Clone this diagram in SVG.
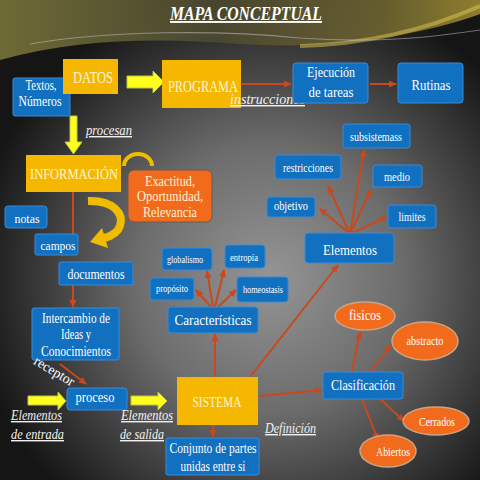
<svg xmlns="http://www.w3.org/2000/svg" width="480" height="480" viewBox="0 0 480 480">
<defs>
<radialGradient id="bg" cx="0.56" cy="0.58" r="0.62">
<stop offset="0" stop-color="#959595"/>
<stop offset="0.45" stop-color="#6c6c6c"/>
<stop offset="1" stop-color="#151515"/>
</radialGradient>
<linearGradient id="top" x1="0" y1="0" x2="1" y2="0">
<stop offset="0" stop-color="#78743a"/>
<stop offset="0.45" stop-color="#4c4930"/>
<stop offset="0.8" stop-color="#6e6430"/>
<stop offset="1" stop-color="#9a8a30"/>
</linearGradient>
<marker id="ah" markerWidth="8" markerHeight="7" refX="7" refY="3.5" orient="auto" markerUnits="userSpaceOnUse">
<path d="M0,0 L8,3.5 L0,7 Z" fill="#c8481f"/>
</marker>
<style>
.b{fill:#1170c0;stroke:#3d8ad2;stroke-width:1}
.y{fill:#f5b700}
.o{fill:#f26b1d;stroke:#c9a486;stroke-width:1.5}
.ya{fill:#ffff1e;stroke:#bcc44a;stroke-width:1}
.t{font-family:"Liberation Serif",serif;fill:#ffffff;text-anchor:middle}
.c{fill:#fff5d6}
.l{font-family:"Liberation Serif",serif;fill:#f2f2f2;font-style:italic;text-decoration:underline}
.r{fill:none;stroke:#c8481f;stroke-width:2}
.ra{fill:none;stroke:#c8481f;stroke-width:2;marker-end:url(#ah)}
</style>
</defs>
<rect width="480" height="480" fill="url(#bg)"/>
<path d="M0,0 H480 V14 C420,36 330,50 240,44 C160,38 80,38 0,60 Z" fill="url(#top)" opacity="0.9"/>
<path d="M300,46 C370,44 430,28 480,6" fill="none" stroke="#e0c850" stroke-width="4" opacity="0.5"/>
<path d="M30,44 C110,30 220,30 300,38 C380,44 440,36 480,30" fill="none" stroke="#c8c8c8" stroke-width="1.2" opacity="0.5"/>
<text class="t" x="246" y="20" font-size="19" font-weight="bold" font-style="italic" text-decoration="underline" textLength="152" lengthAdjust="spacingAndGlyphs">MAPA CONCEPTUAL</text>

<g id="connectors">
<path class="ra" d="M242,84 L291,84"/>
<path class="ra" d="M370,84 L396,84"/>
<path class="r" d="M73,192 V234"/>
<path class="ra" d="M73,285 V307"/>
<path class="ra" d="M60,364 L86,384"/>
<path class="ra" d="M215,377 V334"/>
<path class="ra" d="M213,425 V437"/>
<path class="ra" d="M259,396 L322,390"/>
<path class="ra" d="M250,377 L338,265"/>
<path class="ra" d="M350,234 L364,150"/>
<path class="ra" d="M350,234 L328,186"/>
<path class="ra" d="M350,234 L320,209"/>
<path class="ra" d="M350,234 L371,190"/>
<path class="ra" d="M350,234 L386,217"/>
<path class="ra" d="M211,307 L196,290"/>
<path class="ra" d="M213,307 L207,271"/>
<path class="ra" d="M215,307 L224,270"/>
<path class="ra" d="M218,307 L236,290"/>
<path class="ra" d="M352,372 L360,332"/>
<path class="ra" d="M370,372 L391,345"/>
<path class="ra" d="M380,399 L404,421"/>
<path class="ra" d="M362,399 L378,440"/>
<polygon class="ya" points="127,76 153,76 153,71 164,82 153,93 153,88 127,88"/>
<polygon class="ya" points="70,116 77,116 77,142 82,142 73.5,154 65,142 70,142"/>
<polygon class="ya" points="28,396 58,396 58,392 66,401 58,410 58,405 28,405"/>
<polygon class="ya" points="131,396 158,396 158,392 167,401 158,410 158,405 131,405"/>
<path d="M124,166 A14,12 0 0 1 152,166" fill="none" stroke="#f0bc00" stroke-width="4"/>
<path d="M88,201 C114,200 124,214 120,226 C118,232 112,236 104,238" fill="none" stroke="#f0bc00" stroke-width="8"/>
<polygon points="90,242 102,228 108,248" fill="#f0bc00"/>
</g>

<g id="textos"><rect class="b" x="13" y="78" width="57" height="38" rx="2"/>
<text class="t" x="41" y="90" font-size="14" textLength="31" lengthAdjust="spacingAndGlyphs">Textos,</text>
<text class="t" x="40" y="106" font-size="14" textLength="43" lengthAdjust="spacingAndGlyphs">Números</text></g>
<g id="datos"><rect class="y" x="63" y="59" width="55" height="35"/>
<text class="t c" x="93" y="83" font-size="16" textLength="40" lengthAdjust="spacingAndGlyphs">DATOS</text></g>
<g id="programa"><rect class="y" x="162" y="60" width="79" height="48"/>
<text class="t c" x="203" y="92" font-size="16" textLength="70" lengthAdjust="spacingAndGlyphs">PROGRAMA</text></g>
<text class="l" x="230" y="104" font-size="14" textLength="75" lengthAdjust="spacingAndGlyphs">instrucciones</text>
<g id="ejecucion"><rect class="b" x="293" y="63" width="75" height="40" rx="3"/>
<text class="t" x="331" y="77" font-size="15" textLength="48" lengthAdjust="spacingAndGlyphs">Ejecución</text>
<text class="t" x="331" y="97" font-size="15" textLength="45" lengthAdjust="spacingAndGlyphs">de tareas</text></g>
<g id="rutinas"><rect class="b" x="398" y="63" width="65" height="40" rx="3"/>
<text class="t" x="431" y="90" font-size="15" textLength="39" lengthAdjust="spacingAndGlyphs">Rutinas</text></g>
<text class="l" x="86" y="135" font-size="14" textLength="46" lengthAdjust="spacingAndGlyphs">procesan</text>
<g id="informacion"><rect class="y" x="26" y="155" width="95" height="37"/>
<text class="t c" x="74" y="179" font-size="15" textLength="88" lengthAdjust="spacingAndGlyphs">INFORMACIÓN</text></g>
<g id="exactitud"><rect x="128" y="170" width="84" height="52" rx="6" fill="#f26b1d" stroke="#6a5a50" stroke-width="1"/>
<text class="t c" x="170" y="186" font-size="14" textLength="50" lengthAdjust="spacingAndGlyphs">Exactitud,</text>
<text class="t c" x="170" y="201" font-size="14" textLength="66" lengthAdjust="spacingAndGlyphs">Oportunidad,</text>
<text class="t c" x="170" y="217" font-size="14" textLength="54" lengthAdjust="spacingAndGlyphs">Relevancia</text></g>
<g id="notas"><rect class="b" x="5" y="206" width="42" height="22" rx="3"/>
<text class="t" x="27" y="223" font-size="13" textLength="25" lengthAdjust="spacingAndGlyphs">notas</text></g>
<g id="campos"><rect class="b" x="35" y="234" width="43" height="21" rx="2"/>
<text class="t" x="58" y="250" font-size="13" textLength="35" lengthAdjust="spacingAndGlyphs">campos</text></g>
<g id="documentos"><rect class="b" x="59" y="262" width="74" height="23" rx="2"/>
<text class="t" x="96" y="279" font-size="14" textLength="57" lengthAdjust="spacingAndGlyphs">documentos</text></g>
<g id="intercambio"><rect class="b" x="32" y="308" width="87" height="52" rx="2"/>
<text class="t" x="76" y="323" font-size="14" textLength="68" lengthAdjust="spacingAndGlyphs">Intercambio de</text>
<text class="t" x="76" y="339" font-size="14" textLength="30" lengthAdjust="spacingAndGlyphs">Ideas y</text>
<text class="t" x="76" y="356" font-size="14" textLength="70" lengthAdjust="spacingAndGlyphs">Conocimientos</text></g>
<text class="t" x="0" y="0" font-size="14" textLength="45" lengthAdjust="spacingAndGlyphs" transform="translate(52,375) rotate(31)">receptor</text>
<g id="proceso"><rect class="b" x="67" y="388" width="60" height="22" rx="3"/>
<text class="t" x="95" y="402" font-size="14" textLength="39" lengthAdjust="spacingAndGlyphs">proceso</text></g>
<text class="l" x="11" y="420" font-size="14" textLength="51" lengthAdjust="spacingAndGlyphs">Elementos</text>
<text class="l" x="11" y="439" font-size="14" textLength="53" lengthAdjust="spacingAndGlyphs">de entrada</text>
<text class="l" x="121" y="420" font-size="14" textLength="52" lengthAdjust="spacingAndGlyphs">Elementos</text>
<text class="l" x="120" y="439" font-size="14" textLength="44" lengthAdjust="spacingAndGlyphs">de salida</text>
<g id="sistema"><rect class="y" x="177" y="377" width="81" height="48"/>
<text class="t c" x="217" y="407" font-size="15" textLength="49" lengthAdjust="spacingAndGlyphs">SISTEMA</text></g>
<g id="conjunto"><rect class="b" x="166" y="438" width="93" height="37" rx="2"/>
<text class="t" x="213" y="453" font-size="14" textLength="87" lengthAdjust="spacingAndGlyphs">Conjunto de partes</text>
<text class="t" x="213" y="471" font-size="14" textLength="65" lengthAdjust="spacingAndGlyphs">unidas entre si</text></g>
<text class="l" x="265" y="433" font-size="14" textLength="51" lengthAdjust="spacingAndGlyphs">Definición</text>
<g id="clasificacion"><rect class="b" x="323" y="372" width="80" height="27" rx="3"/>
<text class="t" x="363" y="390" font-size="15" textLength="64" lengthAdjust="spacingAndGlyphs">Clasificación</text></g>
<g id="fisicos"><ellipse class="o" cx="365" cy="316" rx="30" ry="14"/>
<text class="t" x="365" y="320" font-size="14" textLength="32" lengthAdjust="spacingAndGlyphs">fisicos</text></g>
<g id="abstracto"><ellipse class="o" cx="425" cy="341" rx="33" ry="19"/>
<text class="t" x="425" y="345" font-size="12" textLength="37" lengthAdjust="spacingAndGlyphs">abstracto</text></g>
<g id="cerrados"><ellipse class="o" cx="436" cy="421" rx="33" ry="14"/>
<text class="t" x="437" y="426" font-size="12" textLength="36" lengthAdjust="spacingAndGlyphs">Cerrados</text></g>
<g id="abiertos"><ellipse class="o" cx="388" cy="451" rx="28" ry="16"/>
<text class="t" x="393" y="456" font-size="12" textLength="34" lengthAdjust="spacingAndGlyphs">Abiertos</text></g>
<g id="elementos"><rect class="b" x="305" y="233" width="89" height="30" rx="3"/>
<text class="t" x="350" y="255" font-size="15" textLength="54" lengthAdjust="spacingAndGlyphs">Elementos</text></g>
<g id="subsistemass"><rect class="b" x="343" y="124" width="67" height="24" rx="3"/>
<text class="t" x="376" y="141" font-size="12" textLength="52" lengthAdjust="spacingAndGlyphs">subsistemass</text></g>
<g id="restricciones"><rect class="b" x="275" y="155" width="66" height="24" rx="3"/>
<text class="t" x="308" y="172" font-size="12" textLength="50" lengthAdjust="spacingAndGlyphs">restricciones</text></g>
<g id="medio"><rect class="b" x="373" y="165" width="49" height="22" rx="3"/>
<text class="t" x="397" y="181" font-size="12" textLength="26" lengthAdjust="spacingAndGlyphs">medio</text></g>
<g id="objetivo"><rect class="b" x="267" y="197" width="48" height="20" rx="3"/>
<text class="t" x="291" y="210" font-size="12" textLength="34" lengthAdjust="spacingAndGlyphs">objetivo</text></g>
<g id="limites"><rect class="b" x="388" y="205" width="48" height="23" rx="3"/>
<text class="t" x="412" y="221" font-size="12" textLength="27" lengthAdjust="spacingAndGlyphs">limites</text></g>
<g id="caracteristicas"><rect class="b" x="168" y="307" width="90" height="26" rx="3"/>
<text class="t" x="213" y="325" font-size="15" textLength="77" lengthAdjust="spacingAndGlyphs">Características</text></g>
<g id="globalismo"><rect class="b" x="162" y="248" width="50" height="22" rx="3"/>
<text class="t" x="185" y="263" font-size="10" textLength="36" lengthAdjust="spacingAndGlyphs">globalismo</text></g>
<g id="entropia"><rect class="b" x="225" y="245" width="40" height="23" rx="3"/>
<text class="t" x="244" y="261" font-size="10" textLength="28" lengthAdjust="spacingAndGlyphs">entropía</text></g>
<g id="proposito"><rect class="b" x="150" y="278" width="44" height="22" rx="3"/>
<text class="t" x="172" y="292" font-size="10" textLength="32" lengthAdjust="spacingAndGlyphs">propósito</text></g>
<g id="homeostasis"><rect class="b" x="237" y="277" width="51" height="25" rx="3"/>
<text class="t" x="263" y="293" font-size="10" textLength="40" lengthAdjust="spacingAndGlyphs">homeostasis</text></g>
</svg>
